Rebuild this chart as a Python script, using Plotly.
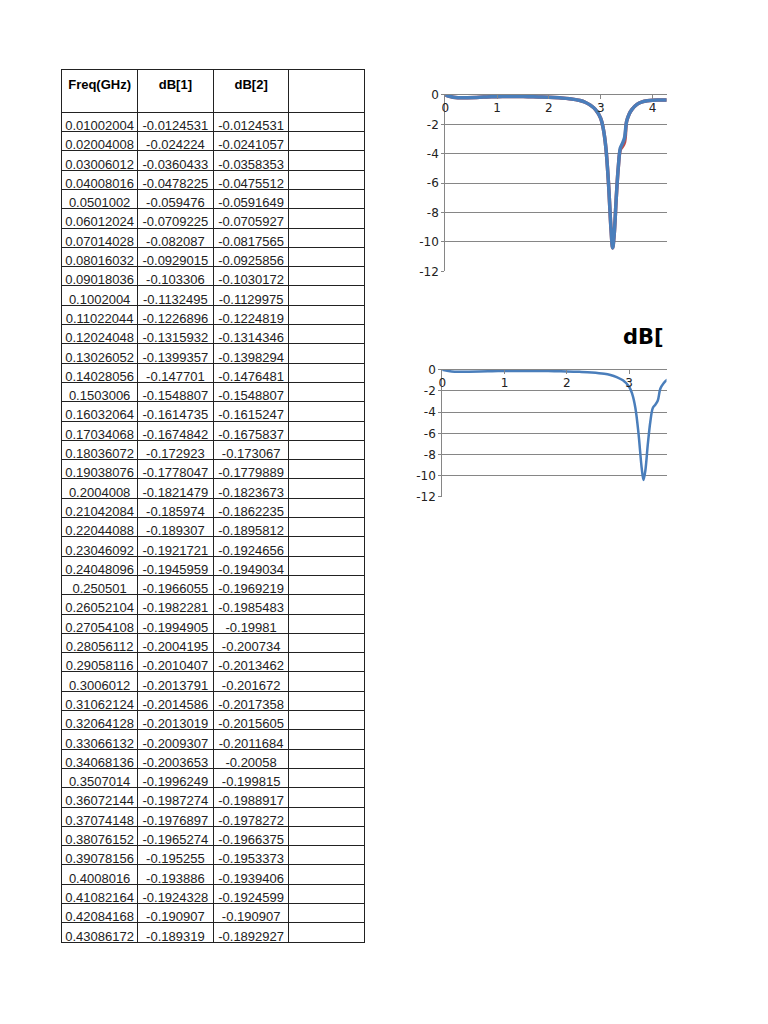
"""
Spreadsheet view: S-parameter table plus two dB charts
"""

import plotly.graph_objects as go

# table data
freq_ghz = [
    0.01002004, 0.02004008, 0.03006012, 0.04008016, 0.0501002, 0.06012024,
    0.07014028, 0.08016032, 0.09018036, 0.1002004, 0.11022044, 0.12024048,
    0.13026052, 0.14028056, 0.1503006, 0.16032064, 0.17034068, 0.18036072,
    0.19038076, 0.2004008, 0.21042084, 0.22044088, 0.23046092, 0.24048096,
    0.250501, 0.26052104, 0.27054108, 0.28056112, 0.29058116, 0.3006012,
    0.31062124, 0.32064128, 0.33066132, 0.34068136, 0.3507014, 0.36072144,
    0.37074148, 0.38076152, 0.39078156, 0.4008016, 0.41082164, 0.42084168,
    0.43086172,
]
db1 = [
    -0.0124531, -0.024224, -0.0360433, -0.0478225, -0.059476, -0.0709225,
    -0.082087, -0.0929015, -0.103306, -0.1132495, -0.1226896, -0.1315932,
    -0.1399357, -0.147701, -0.1548807, -0.1614735, -0.1674842, -0.172923,
    -0.1778047, -0.1821479, -0.185974, -0.189307, -0.1921721, -0.1945959,
    -0.1966055, -0.1982281, -0.1994905, -0.2004195, -0.2010407, -0.2013791,
    -0.2014586, -0.2013019, -0.2009307, -0.2003653, -0.1996249, -0.1987274,
    -0.1976897, -0.1965274, -0.195255, -0.193886, -0.1924328, -0.190907,
    -0.189319,
]
db2 = [
    -0.0124531, -0.0241057, -0.0358353, -0.0475512, -0.0591649, -0.0705927,
    -0.0817565, -0.0925856, -0.1030172, -0.1129975, -0.1224819, -0.1314346,
    -0.1398294, -0.1476481, -0.1548807, -0.1615247, -0.1675837, -0.173067,
    -0.1779889, -0.1823673, -0.1862235, -0.1895812, -0.1924656, -0.1949034,
    -0.1969219, -0.1985483, -0.19981, -0.200734, -0.2013462, -0.201672,
    -0.2017358, -0.2015605, -0.2011684, -0.20058, -0.199815, -0.1988917,
    -0.1978272, -0.1966375, -0.1953373, -0.1939406, -0.1924599, -0.190907,
    -0.1892927,
]
headers = ["Freq(GHz)", "dB[1]", "dB[2]", ""]

# curves (full sweep)
sweep_ghz = [
    0, 0.1, 0.2, 0.31, 0.43, 0.6, 0.8, 1.0, 1.2, 1.4, 1.6, 1.8, 2.0, 2.2,
    2.4, 2.6, 2.7, 2.8, 2.9, 3.0, 3.05, 3.1, 3.15, 3.2, 3.23, 3.26, 3.3,
    3.34, 3.38, 3.42, 3.46, 3.5, 3.55, 3.6, 3.7, 3.8, 3.9, 4.0, 4.1, 4.2, 4.3,
]
sweep_db1 = [
    0, -0.11, -0.18, -0.2, -0.19, -0.17, -0.14, -0.12, -0.11, -0.11, -0.12,
    -0.14, -0.16, -0.2, -0.26, -0.38, -0.5, -0.7, -1.0, -1.6, -2.3, -3.6,
    -6.0, -9.2, -10.4, -9.5, -7.0, -4.9, -3.7, -3.5, -3.2, -1.8, -1.3, -1.0,
    -0.65, -0.48, -0.4, -0.36, -0.35, -0.35, -0.35,
]
sweep_db2 = [
    0, -0.11, -0.18, -0.2, -0.19, -0.17, -0.14, -0.12, -0.11, -0.11, -0.12,
    -0.14, -0.16, -0.2, -0.26, -0.38, -0.5, -0.7, -1.0, -1.6, -2.3, -3.6,
    -6.0, -9.2, -10.4, -9.5, -7.0, -4.9, -3.6, -3.3, -2.9, -1.8, -1.3, -1.0,
    -0.65, -0.48, -0.4, -0.36, -0.35, -0.35, -0.35,
]
y_ticks = [0, -2, -4, -6, -8, -10, -12]
y_tick_text = ["0", "-2", "-4", "-6", "-8", "-10", "-12"]
x_ticks = [0, 1, 2, 3, 4]

# page body has an 8px margin, so the figure is a bit smaller than the window
OFF = 8
W, H = 760, 1016


def px_x(v):
    return (v - OFF) / W


def px_y(v):
    return 1 - (v - OFF) / H


BLUE = "#4a7ebb"
RED = "#be4b48"
GRID = "#868686"

fig = go.Figure()

# table
fig.add_trace(
    go.Table(
        domain=dict(x=[px_x(58), px_x(363)], y=[px_y(1000), px_y(63)]),
        columnwidth=[1, 1, 1, 1],
        header=dict(
            values=["<b>%s</b>" % h for h in headers],
            height=43,
            align="center",
            fill_color="white",
            line=dict(color="#222", width=1),
            font=dict(family="Liberation Sans", size=13, color="black"),
        ),
        cells=dict(
            values=[
                [str(v) for v in freq_ghz],
                [str(v) for v in db1],
                [str(v) for v in db2],
                ["" for _ in freq_ghz],
            ],
            height=19.3,
            align="center",
            fill_color="white",
            line=dict(color="#222", width=1),
            font=dict(family="Liberation Sans", size=13, color="#222"),
        ),
    )
)

# chart 1: both ports
fig.add_trace(
    go.Scatter(x=sweep_ghz, y=sweep_db1, mode="lines", name="dB[1]",
               line=dict(color=RED, width=3.5, shape="spline"),
               xaxis="x", yaxis="y")
)
fig.add_trace(
    go.Scatter(x=sweep_ghz, y=sweep_db2, mode="lines", name="dB[2]",
               line=dict(color=BLUE, width=3.5, shape="spline"),
               xaxis="x", yaxis="y")
)

# chart 2: dB[2] only
fig.add_trace(
    go.Scatter(x=sweep_ghz, y=sweep_db2, mode="lines", name="dB[2]",
               line=dict(color=BLUE, width=2.5, shape="spline"),
               xaxis="x2", yaxis="y2")
)

xaxis_style = dict(
    side="top",
    ticklabelposition="inside",
    ticklabeloverflow="allow",
    ticklabelstandoff=4,
    tickvals=x_ticks,
    ticks="inside",
    ticklen=4,
    tickcolor=GRID,
    showgrid=False,
    zeroline=False,
    showline=True,
    linecolor=GRID,
    tickfont=dict(family="DejaVu Sans", size=12, color="#222"),
)
yaxis_style = dict(
    range=[-12, 0],
    tickvals=y_ticks,
    ticktext=y_tick_text,
    ticklabeloverflow="allow",
    ticks="outside",
    ticklen=3,
    tickcolor=GRID,
    showgrid=True,
    gridcolor=GRID,
    gridwidth=1,
    zeroline=False,
    showline=True,
    linecolor=GRID,
    tickfont=dict(family="DejaVu Sans", size=12, color="#222"),
)

fig.update_layout(
    width=W,
    height=H,
    margin=dict(l=0, r=0, t=0, b=0),
    paper_bgcolor="white",
    plot_bgcolor="rgba(0,0,0,0)",
    showlegend=False,
    xaxis=dict(xaxis_style, domain=[px_x(443.5), px_x(666)],
               range=[0, 4.27], anchor="y"),
    yaxis=dict(yaxis_style, domain=[px_y(268), px_y(89)], anchor="x"),
    xaxis2=dict(xaxis_style, domain=[px_x(440.5), px_x(666)],
                range=[0, 3.6], anchor="y2"),
    yaxis2=dict(yaxis_style, domain=[px_y(496.7), px_y(367.7)], anchor="x2"),
    annotations=[
        dict(
            text="<b>dB[</b>", x=px_x(620), y=px_y(335),
            xref="paper", yref="paper", xanchor="left", yanchor="middle",
            showarrow=False,
            font=dict(family="DejaVu Sans", size=21, color="black"),
        )
    ],
)

fig.write_html("out.html")
